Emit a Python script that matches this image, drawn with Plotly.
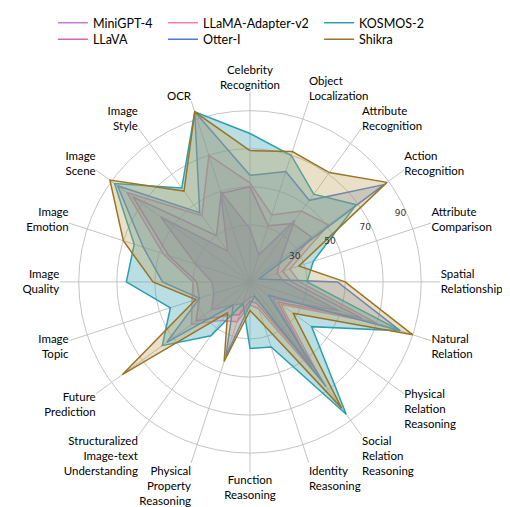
import plotly.graph_objects as go

categories = [
    "Celebrity<br>Recognition", "Object<br>Localization", "Attribute<br>Recognition",
    "Action<br>Recognition", "Attribute<br>Comparison", "Spatial<br>Relationship",
    "Natural<br>Relation", "Physical<br>Relation<br>Reasoning", "Social<br>Relation<br>Reasoning",
    "Identity<br>Reasoning", "Function<br>Reasoning", "Physical<br>Property<br>Reasoning",
    "Structuralized<br>Image-text<br>Understanding", "Future<br>Prediction", "Image<br>Topic",
    "Image<br>Quality", "Image<br>Emotion", "Image<br>Scene", "Image<br>Style", "OCR",
]

minigpt4 = [28, 15, 40, 20, 15, 18, 49, 15, 53, 8, 8, 12, 15, 25, 20, 20, 30, 58, 20, 50]
llava = [50, 31, 38, 40, 18, 22, 62, 18, 55, 12, 10, 18, 22, 35, 28, 28, 45, 76, 30, 49]
llama_adapter = [52, 37, 46, 51, 22, 26, 70, 20, 64, 15, 12, 22, 25, 38, 32, 30, 48, 80, 43, 70]
otter = [56, 61, 53, 87, 5, 46, 83, 12, 68, 8, 12, 41, 15, 54, 28, 46, 59, 86, 45, 94]
kosmos2 = [78, 70, 57, 69, 35, 30, 83, 40, 86, 36, 35, 12, 35, 57, 44, 65, 64, 88, 61, 94]
shikra = [69, 72, 71, 89, 27, 50, 90, 28, 82, 24, 15, 44, 20, 83, 30, 51, 70, 91, 59, 94]

# (name, values, line colour, fill colour)
series = [
    ("MiniGPT-4", minigpt4, "#c27ad8", "rgba(140,110,160,0.3)"),
    ("LLaVA", llava, "#d765b4", "rgba(170,110,150,0.2)"),
    ("LLaMA-Adapter-v2", llama_adapter, "#f37ca4", "rgba(190,120,150,0.2)"),
    ("Otter-I", otter, "#4a7bd4", "rgba(74,115,190,0.25)"),
    ("KOSMOS-2", kosmos2, "#2a9fb0", "rgba(70,170,185,0.38)"),
    ("Shikra", shikra, "#9a7425", "rgba(190,158,85,0.33)"),
]

# one small legend per entry, so the 3x2 grid keeps the reference spacing
legend_x = [0.088, 0.088, 0.304, 0.304, 0.610, 0.610]
legend_y = [0.976, 0.943, 0.976, 0.943, 0.976, 0.943]

fig = go.Figure()
for i, (name, vals, line_col, fill_col) in enumerate(series):
    # filled area, kept out of the legend
    fig.add_trace(go.Scatterpolar(
        r=vals + vals[:1], theta=categories + categories[:1],
        mode="lines", line=dict(color=line_col, width=0),
        fill="toself", fillcolor=fill_col, showlegend=False, hoverinfo="skip",
    ))
    # outline, shown in the legend as a plain line
    leg = "legend" if i == 0 else f"legend{i + 1}"
    fig.add_trace(go.Scatterpolar(
        r=vals + vals[:1], theta=categories + categories[:1],
        name=name, mode="lines", line=dict(color=line_col, width=1.5), legend=leg,
    ))

legends = {}
for i in range(len(series)):
    key = "legend" if i == 0 else f"legend{i + 1}"
    legends[key] = dict(x=legend_x[i], y=legend_y[i], xanchor="left", yanchor="middle",
                        orientation="h", font=dict(size=12.5, family="Lato"),
                        itemwidth=30, bgcolor="rgba(0,0,0,0)")

fig.update_layout(
    width=510, height=507,
    margin=dict(l=0, r=0, t=0, b=0),
    paper_bgcolor="white",
    font=dict(family="Lato", size=11.5, color="black"),
    showlegend=True,
    polar=dict(
        domain=dict(x=[0.099, 0.850], y=[0.085, 0.840]),
        bgcolor="white",
        angularaxis=dict(rotation=90, direction="clockwise", showline=False,
                         gridcolor="#c4c4c4", gridwidth=1, ticks="",
                         tickfont=dict(size=11.5)),
        radialaxis=dict(range=[0, 100], tickvals=[30, 50, 70, 90], angle=22,
                        tickangle=22, side="counterclockwise", showline=False, ticks="",
                        gridcolor="#c4c4c4", gridwidth=1,
                        tickfont=dict(size=9, family="DejaVu Sans", color="#333")),
    ),
    **legends,
)

fig.write_html("out.html")
